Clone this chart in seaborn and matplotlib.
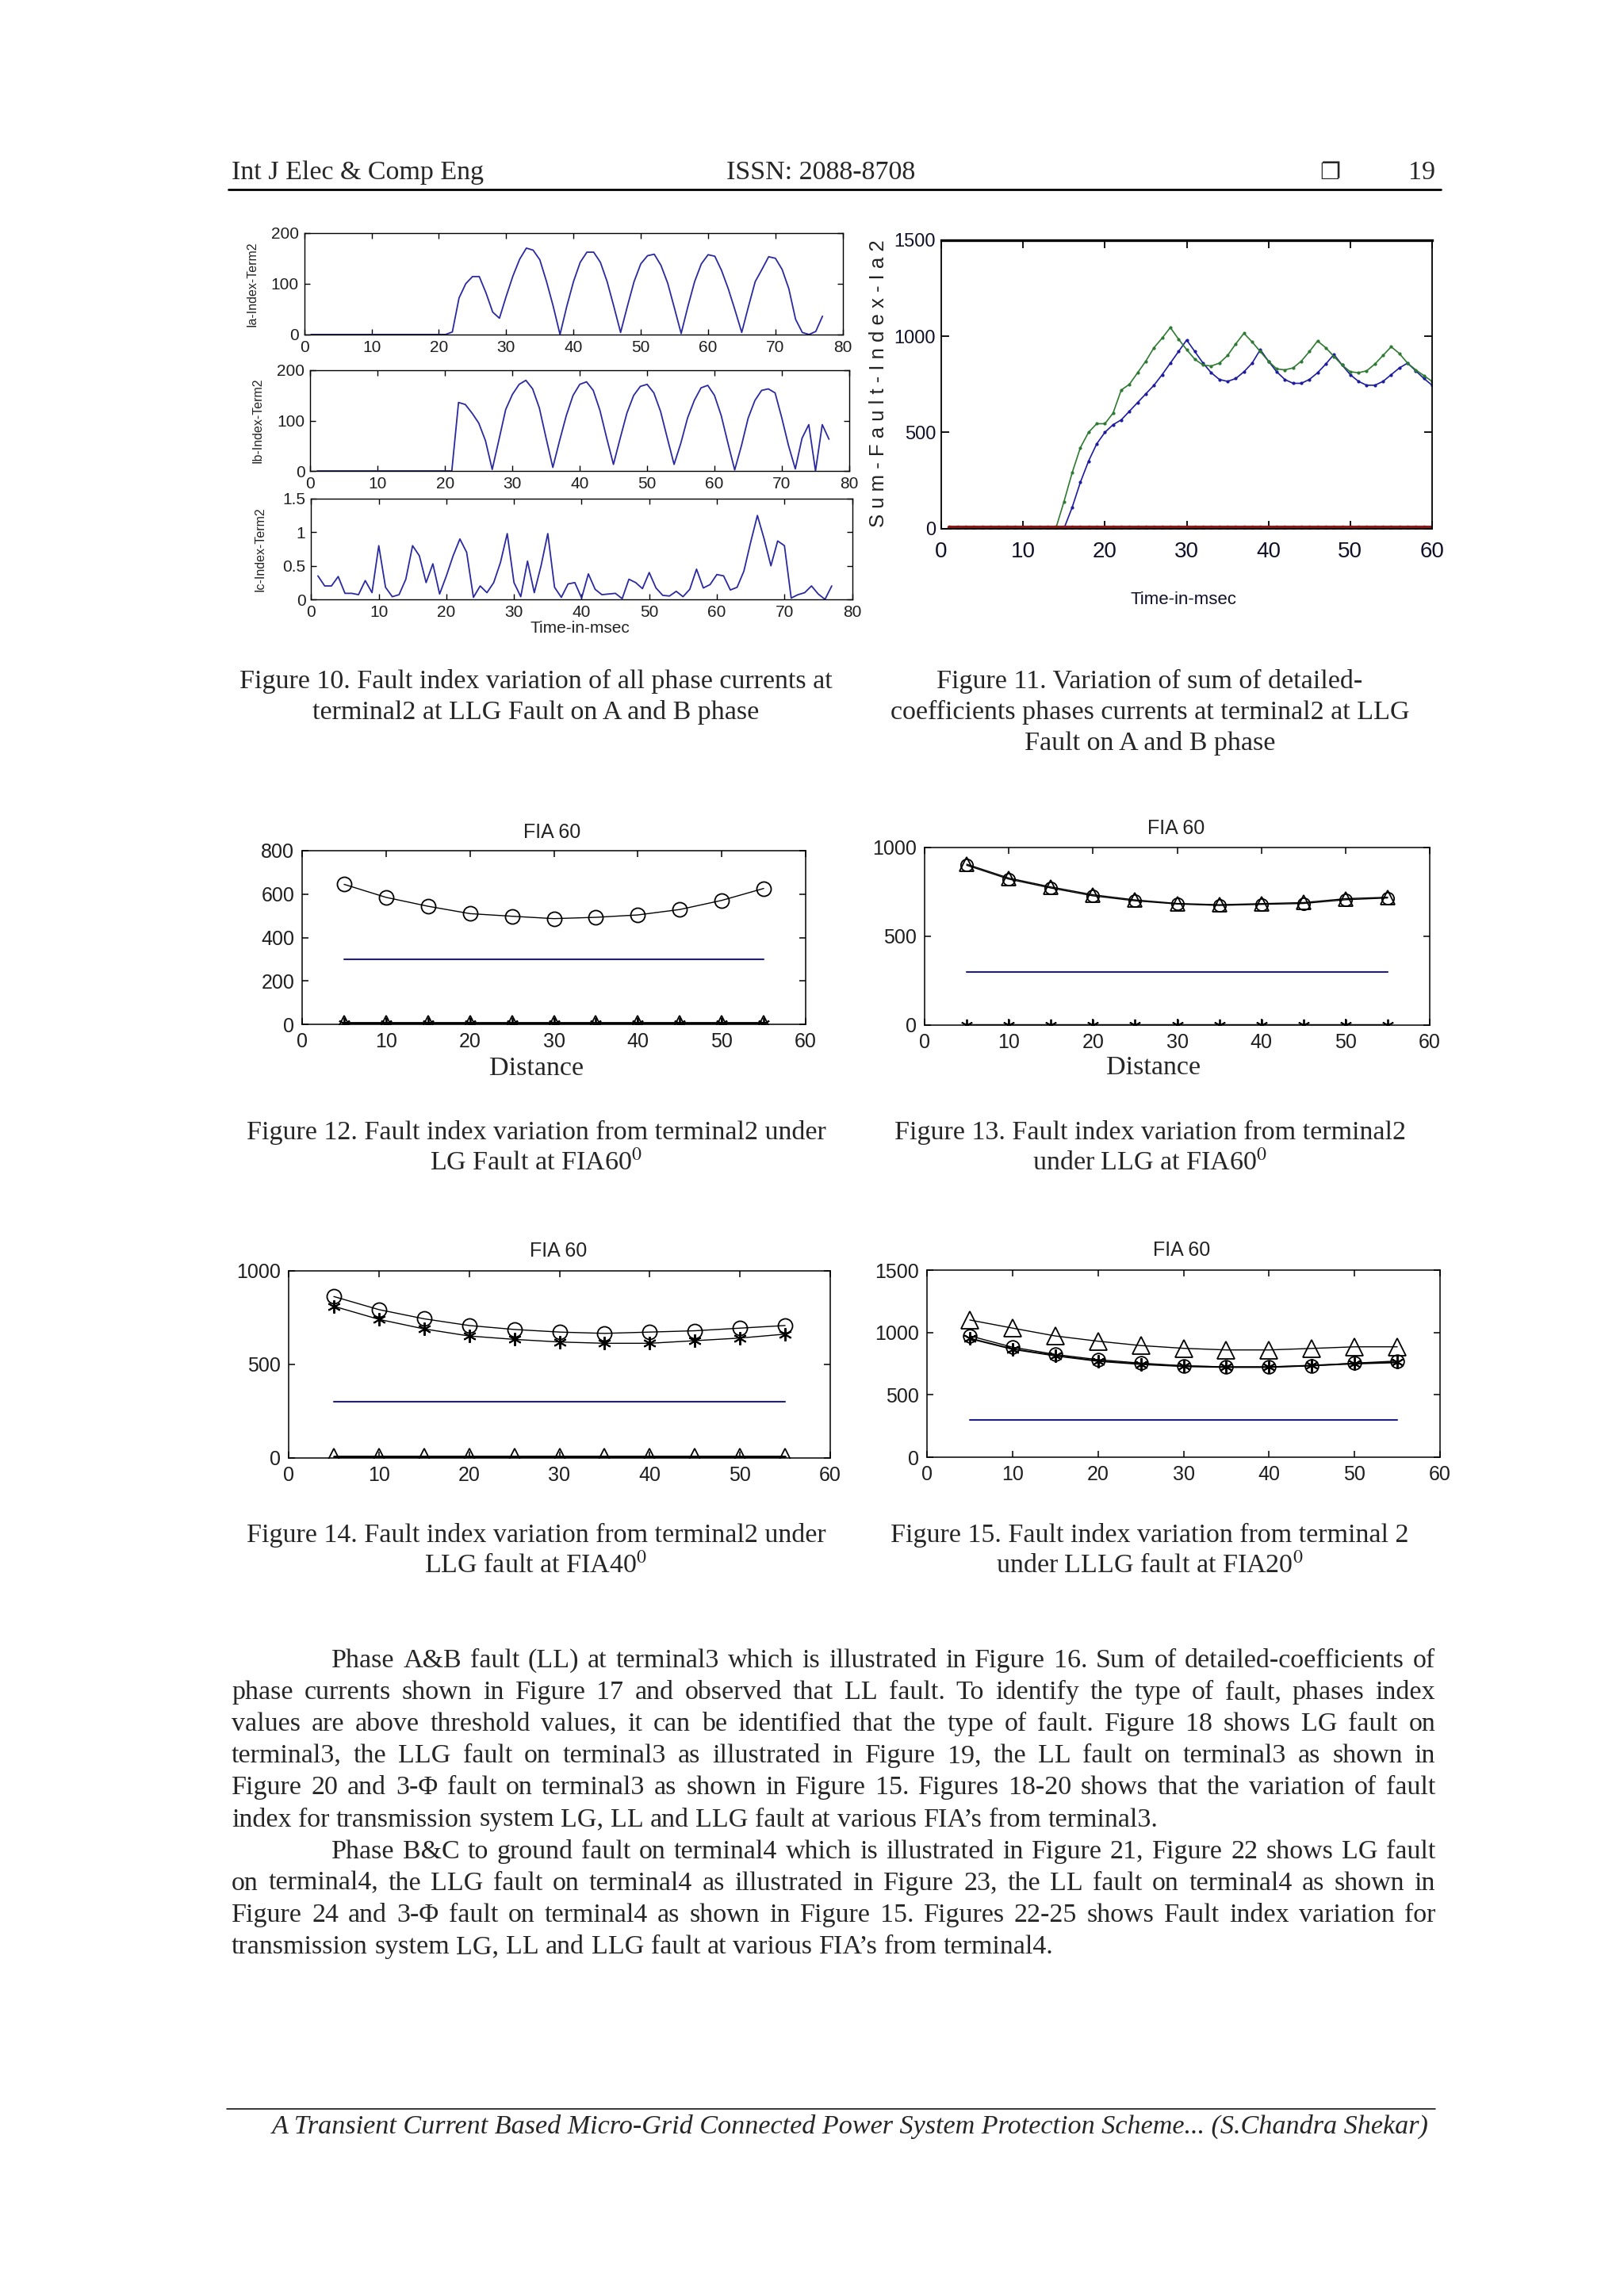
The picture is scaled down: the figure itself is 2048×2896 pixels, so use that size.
import numpy as np
import pandas as pd
import seaborn as sns
import matplotlib.pyplot as plt

W, H = 2048, 2896

# --- Figure 10 data: fault index per phase at terminal2 (LLG on A,B) ---
t_ms = list(range(1, 78))
ia_term2 = [0] * 21 + [5, 72, 100, 114, 114, 82, 44, 32, 75, 115, 148, 170, 166, 147, 104, 55,
                       0, 55, 104, 142, 162, 162, 142, 104, 55, 4, 55, 104, 139, 155, 158, 136,
                       101, 52, 2, 55, 104, 139, 157, 154, 126, 90, 48, 4, 55, 104, 128, 153,
                       150, 128, 90, 30, 4, 0, 6, 36]
ib_term2 = [0] * 21 + [136, 132, 115, 95, 60, 3, 62, 122, 152, 172, 180, 163, 125, 65, 7, 60,
                       110, 150, 172, 177, 160, 120, 65, 13, 65, 115, 150, 168, 172, 155, 118, 65,
                       13, 55, 105, 140, 165, 170, 150, 110, 55, 2, 50, 105, 140, 160, 163, 155,
                       105, 50, 4, 65, 92, 0, 92, 63]
ic_term2 = [0.35, 0.2, 0.2, 0.34, 0.09, 0.09, 0.07, 0.28, 0.1, 0.8, 0.18, 0.04, 0.07, 0.3, 0.8,
            0.65, 0.25, 0.53, 0.08, 0.35, 0.65, 0.9, 0.7, 0.03, 0.2, 0.1, 0.25, 0.55, 0.98, 0.25,
            0.04, 0.57, 0.1, 0.5, 0.98, 0.18, 0.03, 0.23, 0.25, 0.02, 0.38, 0.15, 0.07, 0.08, 0.09,
            0.01, 0.3, 0.25, 0.16, 0.4, 0.17, 0.06, 0.05, 0.12, 0.04, 0.15, 0.45, 0.17, 0.22, 0.37,
            0.35, 0.14, 0.18, 0.42, 0.85, 1.25, 0.9, 0.5, 0.87, 0.8, 0.02, 0.07, 0.1, 0.2, 0.08,
            0.0, 0.2]

# --- Figure 11 data: sum of detailed coefficients ---
t_sum = list(range(1, 61))
sum_green = [0] * 14 + [140, 290, 420, 500, 545, 545, 600, 720, 750, 810, 870, 940, 990, 1045,
                        985, 930, 880, 850, 845, 860, 900, 960, 1015, 970, 920, 870, 830, 825,
                        835, 870, 920, 975, 940, 895, 850, 815, 810, 820, 855, 900, 945, 910,
                        860, 825, 795, 765]
sum_blue = [0] * 15 + [110, 240, 350, 440, 500, 540, 565, 610, 655, 700, 745, 800, 860, 920,
                       980, 920, 860, 810, 775, 765, 780, 815, 860, 930, 870, 815, 775, 755, 755,
                       775, 810, 855, 905, 850, 800, 765, 745, 745, 765, 800, 835, 860, 820,
                       780, 745]
sum_red = [5] * 60

# --- Figures 12-15 data: fault index vs distance ---
dist = [5, 10, 15, 20, 25, 30, 35, 40, 45, 50, 55]
threshold = [300] * 11
f12_circle = [645, 585, 544, 510, 498, 487, 493, 504, 529, 571, 626]
f12_tri = [8] * 11
f12_star = [4] * 11
f13_circle = [900, 822, 772, 728, 700, 682, 674, 680, 685, 706, 716]
f13_tri = [906, 828, 778, 734, 705, 685, 678, 684, 690, 712, 720]
f13_star = [2] * 11
f14_circle = [863, 793, 744, 708, 687, 673, 666, 673, 680, 694, 708]
f14_star = [811, 741, 690, 652, 634, 620, 613, 613, 627, 641, 662]
f14_tri = [8] * 11
f15_tri = [1100, 1035, 972, 930, 895, 873, 860, 860, 872, 885, 885]
f15_circle = [973, 882, 824, 782, 754, 733, 724, 724, 733, 754, 771]
f15_star = [952, 867, 814, 771, 746, 729, 722, 722, 735, 750, 760]

sns.set_theme(style="ticks")
plt.rcParams['font.family'] = ['Liberation Sans', 'DejaVu Sans']
plt.rcParams['mathtext.fontset'] = 'stix'

fig = plt.figure(figsize=(W / 100, H / 100), dpi=100, facecolor='white')
renderer = fig.canvas.get_renderer()

SERIF = ['Liberation Serif', 'DejaVu Serif']
BODY = 24.5
ASTER = (6, 2, 0)


def px_axes(left, top, right, bottom):
    return fig.add_axes([left / W, 1 - bottom / H, (right - left) / W, (bottom - top) / H])


def px_text(x, y, s, **kw):
    return fig.text(x / W, 1 - y / H, s, **kw)


def matlab_box(ax, lw=1.0, length=6, size=13, pad=6):
    for sp in ax.spines.values():
        sp.set_visible(True)
        sp.set_linewidth(lw)
        sp.set_color('black')
    ax.tick_params(direction='in', top=True, right=True, length=length, width=lw,
                   labelsize=size, pad=pad, color='black', labelcolor='#1e1e1e')
    ax.set_xlabel('')
    ax.set_ylabel('')


def line(ax, x, y, color='black', lw=1.0, marker=None, ms=10, mfc='none', mew=1.0, **kw):
    sns.lineplot(x=x, y=y, ax=ax, color=color, lw=lw, marker=marker, markersize=ms,
                 markerfacecolor=mfc, markeredgecolor=color, markeredgewidth=mew,
                 estimator=None, sort=False, **kw)


# ---------- header ----------
px_text(292, 226, 'Int J Elec & Comp Eng', fontsize=BODY, family=SERIF, va='baseline')
px_text(1035, 226, 'ISSN: 2088-8708', fontsize=BODY, family=SERIF, va='baseline', ha='center')
px_text(1677, 226, '\u2750', fontsize=21, family=['DejaVu Sans'], fontweight='bold',
        va='baseline', ha='center')
px_text(1810, 226, '19', fontsize=BODY, family=SERIF, va='baseline', ha='right')
fig.add_artist(plt.Line2D([288 / W, 1817 / W], [1 - 239 / H, 1 - 239 / H], color='black', lw=2))

# ---------- Figure 10 ----------
panels = [
    (ia_term2, 'Ia-Index-Term2', (383.7, 293.7, 1062.7, 421.9), [0, 100, 200], ['0', '100', '200'], 200, 318),
    (ib_term2, 'Ib-Index-Term2', (391.4, 467.0, 1070.9, 594.0), [0, 100, 200], ['0', '100', '200'], 200, 325),
    (ic_term2, 'Ic-Index-Term2', (392.4, 629.0, 1074.5, 756.0), [0, 0.5, 1, 1.5], ['0', '0.5', '1', '1.5'], 1.5, 328),
]
for vals, lab, box, yt, ytl, ytop, lx in panels:
    ax = px_axes(*box)
    line(ax, t_ms, vals, color='#2a2aa0', lw=1.3)
    ax.set_xlim(0, 80)
    ax.set_ylim(0, ytop)
    ax.set_xticks(range(0, 81, 10))
    ax.set_yticks(yt)
    ax.set_yticklabels(ytl)
    matlab_box(ax, lw=1.0, length=5, size=15, pad=5)
    px_text(lx, (box[1] + box[3]) / 2, lab, rotation=90, fontsize=11.5, ha='center', va='center', color='#222222')
px_text(731, 792, 'Time-in-msec', fontsize=15, ha='center', va='center', color='#222222')

# ---------- Figure 11 ----------
ax = px_axes(1187, 302.7, 1806, 666.7)
line(ax, t_sum, sum_blue, color='#1c1c9e', lw=1.2, marker='.', ms=4, mfc='#1c1c9e')
line(ax, t_sum, sum_green, color='#2f7a32', lw=1.2, marker='.', ms=4, mfc='#2f7a32')
line(ax, t_sum, sum_red, color='#8a1616', lw=3.5, marker='.', ms=6, mfc='#8a1616')
ax.set_xlim(0, 60)
ax.set_ylim(0, 1500)
ax.set_xticks(range(0, 61, 10))
ax.set_yticks([0, 500, 1000, 1500])
matlab_box(ax, lw=1.3, length=7, size=17, pad=5)
ax.spines['top'].set_linewidth(2.4)
ax.tick_params(axis='x', labelsize=20, pad=12)
ax.tick_params(labelcolor='#101028')
px_text(1108, 484, 'S u m - F a u l t - I n d e x - I a 2', rotation=90, fontsize=18.5,
        ha='center', va='center', color='#222222')
px_text(1493, 757, 'Time-in-msec', fontsize=16, ha='center', va='center', color='#101028')

# ---------- captions row 1 ----------
def caption(cx, y0, lines):
    for i, s in enumerate(lines):
        px_text(cx, y0 + 38.8 * i + 9, s, fontsize=BODY, family=SERIF, ha='center', va='baseline')


caption(676, 859, ['Figure 10. Fault index variation of all phase currents at',
                   'terminal2 at LLG Fault on A and B phase'])
caption(1450, 859, ['Figure 11. Variation of sum of detailed-',
                    'coefficients phases currents at terminal2 at LLG',
                    'Fault on A and B phase'])

# ---------- Figures 12-15 ----------
def fia_axes(box, ytop, yt, title_xy):
    ax = px_axes(*box)
    ax.set_xlim(0, 60)
    ax.set_ylim(0, ytop)
    ax.set_xticks(range(0, 61, 10))
    ax.set_yticks(yt)
    matlab_box(ax, lw=1.1, length=6, size=18, pad=7)
    px_text(title_xy[0], title_xy[1], 'FIA 60', fontsize=18, ha='center', va='center', color='#222222')
    return ax


ax = fia_axes((381, 1073, 1016, 1292), 800, [0, 200, 400, 600, 800], (696, 1050))
line(ax, dist, threshold, color='#1f1f8c', lw=1.5)
line(ax, dist, f12_circle, lw=1.0, marker='o', ms=13, mew=1.3)
line(ax, dist, f12_tri, lw=2.0, marker='^', ms=13, mew=1.3)
line(ax, dist, f12_star, lw=2.0, marker=ASTER, ms=11, mew=1.3)

ax = fia_axes((1166, 1069, 1803, 1293), 1000, [0, 500, 1000], (1483, 1045))
line(ax, dist, threshold, color='#1f1f8c', lw=1.5)
line(ax, dist, f13_circle, lw=1.0, marker='o', ms=11, mew=1.3)
line(ax, dist, f13_tri, lw=1.0, marker='^', ms=13, mew=1.3)
line(ax, dist, f13_star, lw=2.5, marker=ASTER, ms=11, mew=1.3)

px_text(677, 1348, 'Distance', fontsize=BODY, family=SERIF, ha='center', va='center')
px_text(1455, 1347, 'Distance', fontsize=BODY, family=SERIF, ha='center', va='center')

caption(676, 1428, ['Figure 12. Fault index variation from terminal2 under',
                    'LG Fault at FIA60$^{0}$'])
caption(1450, 1428, ['Figure 13. Fault index variation from terminal2',
                     'under LLG at FIA60$^{0}$'])

ax = fia_axes((364, 1603, 1047, 1839), 1000, [0, 500, 1000], (704, 1578))
line(ax, dist, threshold, color='#1f1f8c', lw=1.5)
line(ax, dist, f14_circle, lw=1.0, marker='o', ms=13, mew=1.3)
line(ax, dist, f14_star, lw=1.0, marker=ASTER, ms=12, mew=1.4)
line(ax, dist, f14_tri, lw=2.0, marker='^', ms=15, mew=1.3)

ax = fia_axes((1169, 1602, 1816, 1838), 1500, [0, 500, 1000, 1500], (1490, 1577))
line(ax, dist, threshold, color='#1f1f8c', lw=1.5)
line(ax, dist, f15_tri, lw=1.0, marker='^', ms=16, mew=1.3)
line(ax, dist, f15_circle, lw=1.0, marker='o', ms=12, mew=1.3)
line(ax, dist, f15_star, lw=1.5, marker=ASTER, ms=12, mew=1.4)

caption(676, 1936, ['Figure 14. Fault index variation from terminal2 under',
                    'LLG fault at FIA40$^{0}$'])
caption(1450, 1936, ['Figure 15. Fault index variation from terminal 2',
                     'under LLLG fault at FIA20$^{0}$'])

# ---------- body text (justified) ----------
body_lines = [
    ('Phase A&B fault (LL) at terminal3 which is illustrated in Figure 16. Sum of detailed-coefficients of', True, True),
    ('phase currents shown in Figure 17 and observed that LL fault. To identify the type of fault, phases index', False, True),
    ('values are above threshold values, it can be identified that the type of fault. Figure 18 shows LG fault on', False, True),
    ('terminal3, the LLG fault on terminal3 as illustrated in Figure 19, the LL fault on terminal3 as shown in', False, True),
    ('Figure 20 and 3-\u03a6 fault on terminal3 as shown in Figure 15. Figures 18-20 shows that the variation of fault', False, True),
    ('index for transmission system LG, LL and LLG fault at various FIA\u2019s from terminal3.', False, False),
    ('Phase B&C to ground fault on terminal4 which is illustrated in Figure 21, Figure 22 shows LG fault', True, True),
    ('on terminal4, the LLG fault on terminal4 as illustrated in Figure 23, the LL fault on terminal4 as shown in', False, True),
    ('Figure 24 and 3-\u03a6 fault on terminal4 as shown in Figure 15. Figures 22-25 shows Fault index variation for', False, True),
    ('transmission system LG, LL and LLG fault at various FIA\u2019s from terminal4.', False, False),
]

body_kw = dict(fontsize=BODY, family=SERIF, va='baseline')
probe1 = px_text(0, 0, 'a a', **body_kw)
probe2 = px_text(0, 0, 'aa', **body_kw)
space_w = probe1.get_window_extent(renderer).width - probe2.get_window_extent(renderer).width
probe1.remove()
probe2.remove()

x_left, x_right, x_indent = 292, 1810, 418
for i, (txt, indent, justify) in enumerate(body_lines):
    y = 2094 + 40.1 * i + 9
    x0 = x_indent if indent else x_left
    words = txt.split(' ')
    objs = [px_text(0, y, w, **body_kw) for w in words]
    widths = [o.get_window_extent(renderer).width for o in objs]
    gap = (x_right - x0 - sum(widths)) / (len(words) - 1) if justify else space_w
    x = x0
    for o, w in zip(objs, widths):
        o.set_x(x / W)
        x += w + gap

# ---------- footer ----------
fig.add_artist(plt.Line2D([286 / W, 1810 / W], [1 - 2660 / H, 1 - 2660 / H], color='black', lw=1.1))
px_text(1802, 2691, 'A Transient Current Based Micro-Grid Connected Power System Protection Scheme... (S.Chandra Shekar)',
        fontsize=24.6, family=SERIF, style='italic', ha='right', va='baseline')

fig.savefig('out.png', dpi=100, facecolor='white')
